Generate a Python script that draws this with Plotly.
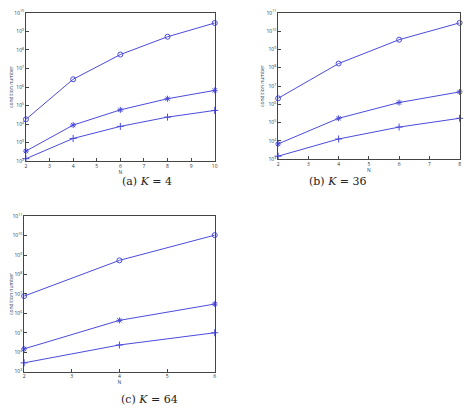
import plotly.graph_objects as go

xa = [2, 4, 6, 8, 10]
a_top = [4.26, 6.42, 7.75, 8.71, 9.45]
a_mid = [2.55, 3.95, 4.77, 5.37, 5.82]
a_bot = [2.14, 3.23, 3.88, 4.38, 4.74]
xb = [2, 4, 6, 8]
b_top = [6.33, 8.23, 9.53, 10.45]
b_mid = [3.84, 5.24, 6.10, 6.68]
b_bot = [3.17, 4.11, 4.76, 5.24]
xc = [2, 4, 6]
c_top = [6.89, 8.73, 10.03]
c_mid = [4.17, 5.64, 6.48]
c_bot = [3.45, 4.37, 5.00]

panels = [
    (xa, [a_top, a_mid, a_bot], (2, 10), (2, 10), "(a) <i>K</i> = 4"),
    (xb, [b_top, b_mid, b_bot], (2, 8), (3, 11), "(b) <i>K</i> = 36"),
    (xc, [c_top, c_mid, c_bot], (2, 6), (3, 11), "(c) <i>K</i> = 64"),
]
xdom = [[0.024, 0.438], [0.577, 0.975], [0.020, 0.438]]
ydom = [[0.623, 0.998], [0.628, 0.998], [0.092, 0.484]]
capy = [0.573, 0.573, 0.022]
symbols = ["circle-open", "asterisk-open", "cross-thin-open"]
col = "#4b4bdc"

fig = go.Figure()
for i, (x, ser, xr, yr, cap) in enumerate(panels):
    n = "" if i == 0 else str(i + 1)
    for s, sym in zip(ser, symbols):
        fig.add_trace(go.Scatter(x=x, y=[10 ** v for v in s], mode="lines+markers",
                                 xaxis="x" + n, yaxis="y" + n, cliponaxis=False,
                                 line=dict(color=col, width=1),
                                 marker=dict(symbol=sym, size=5, color=col, line=dict(color=col, width=1)),
                                 showlegend=False))
    ax = dict(domain=xdom[i], range=list(xr), dtick=1, showgrid=False, zeroline=False,
              showline=True, mirror=True, linecolor="#444", linewidth=0.8, ticks="inside", ticklen=3,
              tickfont=dict(size=5, color="#333"), title=dict(text="N", font=dict(size=5), standoff=2),
              anchor="y" + n)
    ay = dict(domain=ydom[i], type="log", range=list(yr), showgrid=False, zeroline=False,
              showline=True, mirror=True, linecolor="#444", linewidth=0.8, ticks="inside", ticklen=3,
              tickvals=[10 ** k for k in range(yr[0], yr[1] + 1)],
              ticktext=["10<sup>%d</sup>" % k for k in range(yr[0], yr[1] + 1)],
              tickfont=dict(size=5, color="#333"),
              title=dict(text="condition number", font=dict(size=5), standoff=1),
              anchor="x" + n)
    fig.layout["xaxis" + n] = ax
    fig.layout["yaxis" + n] = ay
    fig.add_annotation(text=cap, xref="paper", yref="paper", showarrow=False, yanchor="middle",
                       x=(xdom[i][0] + xdom[i][1]) / 2, y=capy[i],
                       font=dict(family="DejaVu Serif", size=11, color="#222"))

fig.update_layout(width=466, height=403, margin=dict(l=0, r=0, t=0, b=0),
                  plot_bgcolor="white", paper_bgcolor="white")
fig.write_html("out.html")
